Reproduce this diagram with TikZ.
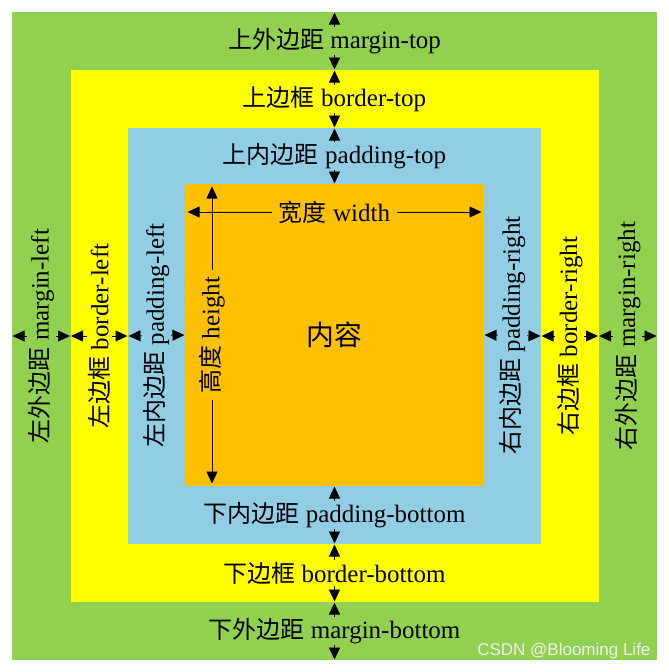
\documentclass[tikz,border=0pt]{standalone}
\usepackage{fontspec}
\setmainfont{Liberation Serif}
\newfontfamily\cjk{Noto Sans CJK SC}[Scale=0.96]
\newfontfamily\wmfont{Liberation Sans}
\usetikzlibrary{arrows.meta,calc}
\definecolor{mgreen}{HTML}{92D050}
\definecolor{byellow}{HTML}{FFFF00}
\definecolor{pblue}{HTML}{92CDE6}
\definecolor{corange}{HTML}{FFC000}
\begin{document}
\begin{tikzpicture}[x=1pt,y=-1pt,
  box/.style={draw=none, inner sep=0pt, outer sep=0pt},
  dim/.style={{Triangle[length=12pt,width=11pt]}-{Triangle[length=12pt,width=11pt]}, line width=0.8pt, black, shorten <=0.5pt, shorten >=0.5pt},
  lbl/.style={font=\fontsize{25}{29}\selectfont, inner sep=1.5pt, text=black},
  vlbl/.style={lbl, rotate=90},
]
\fill[white] (0,0) rectangle (669,672);
\useasboundingbox (0,0) rectangle (669,672);

\node[box, fill=mgreen, minimum width=645pt, minimum height=648pt] (margin) at (334.5,336) {};
\node[box, fill=byellow, minimum width=528pt, minimum height=532pt] (border) at (334.5,336) {};
\node[box, fill=pblue, minimum width=413pt, minimum height=416pt] (padding) at (334.5,336) {};
\node[box, fill=corange, minimum width=299pt, minimum height=302pt] (content) at (334.5,335) {};

% top
\draw[dim] (margin.north) -- node[lbl, fill=mgreen] (mt) {{\cjk 上外边距} margin-top} (border.north);
\draw[dim] (border.north) -- node[lbl, fill=byellow] (bt) {{\cjk 上边框} border-top} (padding.north);
\draw[dim] (padding.north) -- node[lbl, fill=pblue] (pt) {{\cjk 上内边距} padding-top} (content.north);
% bottom
\draw[dim] (content.south) -- node[lbl, fill=pblue] (pb) {{\cjk 下内边距} padding-bottom} (padding.south);
\draw[dim] (padding.south) -- node[lbl, fill=byellow] (bb) {{\cjk 下边框} border-bottom} (border.south);
\draw[dim] (border.south) -- node[lbl, fill=mgreen] (mb) {{\cjk 下外边距} margin-bottom} (margin.south);
% left
\draw[dim] (margin.west) -- node[vlbl, fill=mgreen] (ml) {{\cjk 左外边距} margin-left} (border.west);
\draw[dim] (border.west) -- node[vlbl, fill=byellow] (bl) {{\cjk 左边框} border-left} (padding.west);
\draw[dim] (padding.west) -- node[vlbl, fill=pblue] (pl) {{\cjk 左内边距} padding-left} (content.west);
% right
\draw[dim] (content.east) -- node[vlbl, fill=pblue] (pr) {{\cjk 右内边距} padding-right} (padding.east);
\draw[dim] (padding.east) -- node[vlbl, fill=byellow] (br) {{\cjk 右边框} border-right} (border.east);
\draw[dim] (border.east) -- node[vlbl, fill=mgreen] (mr) {{\cjk 右外边距} margin-right} (margin.east);

% width and height
\coordinate (wL) at ($(content.north west)+(2,28)$);
\coordinate (wR) at ($(content.north east)+(-2,28)$);
\coordinate (hT) at ($(content.north west)+(27,2)$);
\coordinate (hB) at ($(content.south west)+(27,-2)$);
\draw[dim] (hT) -- node[vlbl, fill=corange, inner xsep=7pt] (hl) {{\cjk 高度} height} (hB);
\draw[dim] (wL) -- node[lbl, fill=corange, inner xsep=7pt] (wl) {{\cjk 宽度} width} (wR);

\node[font=\cjk\fontsize{29}{33}\selectfont] (ct) at (content.center) {内容};

\node[font=\wmfont\fontsize{17}{20}\selectfont, text=white!88!gray, anchor=east] (wm) at (654,651) {CSDN @Blooming Life};
\end{tikzpicture}
\end{document}
